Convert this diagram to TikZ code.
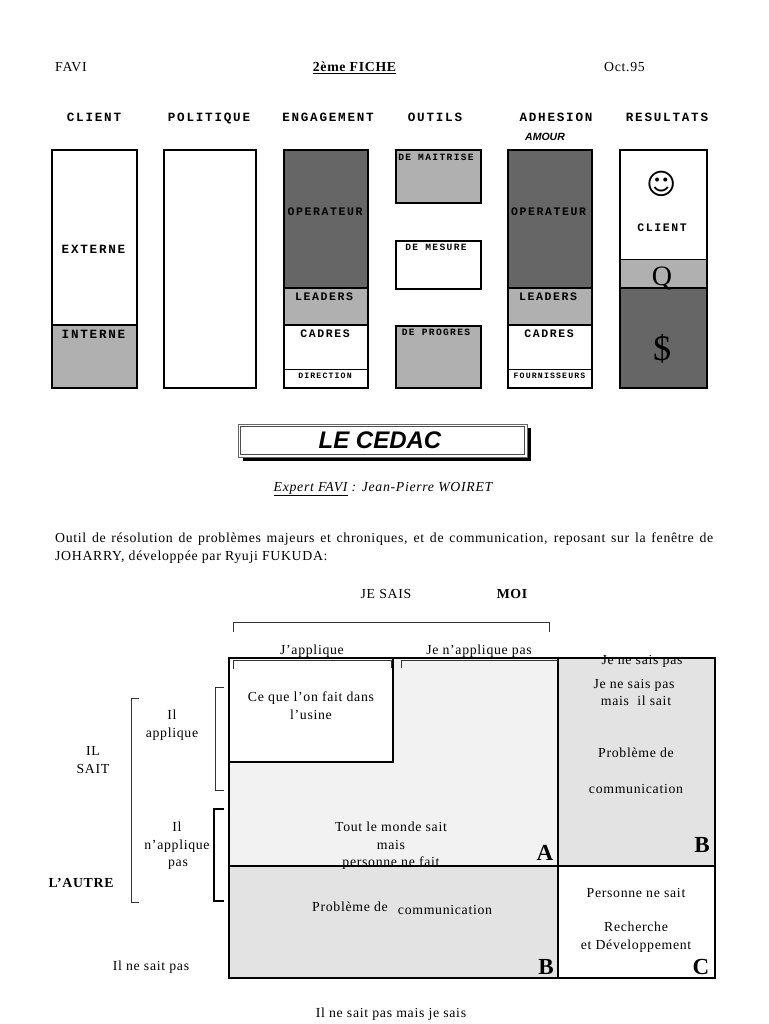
\documentclass[tikz,border=0pt]{standalone}
\usepackage{fontspec}
\setmainfont[LetterSpace=5]{Liberation Serif}
\setsansfont{Liberation Sans}
\newfontfamily\monofnt[LetterSpace=14]{Liberation Mono}
\newfontfamily\symfnt{DejaVu Sans}
\definecolor{darkfill}{gray}{0.40}
\definecolor{midfill}{gray}{0.69}
\definecolor{lightfill}{gray}{0.95}
\definecolor{palefill}{gray}{0.89}
\tikzset{
  txt/.style={anchor=base,inner sep=0pt,font=\fontsize{13.8}{15}\selectfont},
  letter/.style={anchor=base,inner sep=0pt,font=\fontsize{23}{25}\selectfont\bfseries},
  monohead/.style={anchor=base,inner sep=0pt,font=\monofnt\bfseries\fontsize{12.6}{14}\selectfont},
  monomid/.style={anchor=base,inner sep=0pt,font=\monofnt\bfseries\fontsize{11.5}{14}\selectfont},
  monotool/.style={anchor=base,inner sep=0pt,font=\monofnt\bfseries\fontsize{9.6}{12}\selectfont},
  monotiny/.style={anchor=base,inner sep=0pt,font=\monofnt\bfseries\fontsize{8.2}{10}\selectfont},
  boxline/.style={line width=2pt},
  thinbracket/.style={line width=0.9pt,black!80},
}
\begin{document}
\begin{tikzpicture}[x=1pt,y=-1pt]
\useasboundingbox (0,0) rectangle (768,1024);
\fill[white] (0,0) rectangle (768,1024);

% top line
\node[txt,anchor=base west] (favi) at (55,72) {FAVI};
\node[txt] (fiche) at (354.5,72) {\bfseries\underline{2ème FICHE}};
\node[txt,anchor=base west] (date) at (604,72) {Oct.95};

% headings
\node[monohead] (hclient) at (94,122) {CLIENT};
\node[monohead] (hpolitique) at (209,122) {POLITIQUE};
\node[monohead] (hengagement) at (328,122) {ENGAGEMENT};
\node[monohead] (houtils) at (435,122) {OUTILS};
\node[monohead] (hadhesion) at (556,122) {ADHESION};
\node[monohead] (hresultats) at (667,122) {RESULTATS};
\node[anchor=base,inner sep=0pt,font=\sffamily\bfseries\itshape\fontsize{10.5}{12}\selectfont] (amour) at (545,141) {AMOUR};

% fills of the columns
\fill[midfill] (51,325) rectangle (137,388);
\fill[darkfill] (283,150) rectangle (368,288);
\fill[midfill] (283,288) rectangle (368,325);
\fill[midfill] (395,150) rectangle (481,203);
\fill[midfill] (395,325) rectangle (481,388);
\fill[darkfill] (507,150) rectangle (592,288);
\fill[midfill] (507,288) rectangle (592,325);
\fill[midfill] (619,259) rectangle (707,288);
\fill[darkfill] (619,288) rectangle (707,388);

% column texts
\node[monohead] (externe) at (93.5,253) {EXTERNE};
\node[monohead] (interne) at (93.5,338) {INTERNE};
\node[monomid] (op1) at (325,215) {OPERATEUR};
\node[monomid] (lead1) at (324,300) {LEADERS};
\node[monomid] (cad1) at (325,337) {CADRES};
\node[monotiny] (dir) at (325,378) {DIRECTION};
\node[monotool] (maitrise) at (436,161) {DE MAITRISE};
\node[monotool] (mesure) at (436,250) {DE MESURE};
\node[monotool] (progres) at (436,335) {DE PROGRES};
\node[monomid] (op2) at (548.5,215) {OPERATEUR};
\node[monomid] (lead2) at (548,300) {LEADERS};
\node[monomid] (cad2) at (549,337) {CADRES};
\node[monotiny] (four) at (549.5,378) {FOURNISSEURS};
\node[anchor=base,inner sep=0pt,font=\symfnt\fontsize{29}{32}\selectfont] (smile) at (662,195) {☺};
\node[monomid] (cl) at (662,232) {CLIENT};
\node[anchor=base,inner sep=0pt,font=\fontsize{28}{30}\selectfont] (q) at (662,285.5) {Q};
\node[anchor=base,inner sep=0pt,font=\fontsize{36}{38}\selectfont] (dollar) at (662,360) {\$};

% column frames
\draw[boxline] (51.5,150.5) rectangle (136.5,387.5);
\draw[boxline] (51,325) -- (137,325);
\draw[boxline] (163.5,150.5) rectangle (255.5,387.5);
\draw[boxline] (283.5,150.5) rectangle (367.5,387.5);
\draw[line width=1.3pt] (283,288) -- (368,288) (283,325) -- (368,325);
\draw[line width=0.7pt] (283,369) -- (368,369);
\draw[boxline] (395.5,150.5) rectangle (480.5,203);
\draw[boxline] (395.5,240.5) rectangle (480.5,288.5);
\draw[boxline] (395.5,325.5) rectangle (480.5,387.5);
\draw[boxline] (507.5,150.5) rectangle (591.5,387.5);
\draw[line width=1.3pt] (507,288) -- (592,288) (507,325) -- (592,325);
\draw[line width=0.7pt] (507,369) -- (592,369);
\draw[boxline] (619.5,150.5) rectangle (706.5,387.5);
\draw[line width=0.8pt] (619,259) -- (707,259);
\draw[line width=1.3pt] (619,288) -- (707,288);

% title box
\fill[black] (243,428) rectangle (530.5,461);
\draw[line width=1pt,draw=black!60,fill=white] (238,424) rectangle (527,457);
\draw[line width=0.8pt,draw=black!70] (240.5,426.5) rectangle (524.5,454.5);
\node[anchor=base,inner sep=0pt,font=\sffamily\bfseries\itshape\fontsize{24}{26}\selectfont] (cedac) at (380,448) {LE CEDAC};
\node[txt] (expert) at (383,491) {\itshape\underline{Expert FAVI} : Jean-Pierre WOIRET};

% paragraph
\node[txt,anchor=base west] (para1) at (55,542) {\makebox[658pt][s]{Outil de résolution de problèmes majeurs et chroniques, et de communication, reposant sur la fenêtre de}};
\node[txt,anchor=base west] (para2) at (55,560) {JOHARRY, développée par Ryuji FUKUDA:};

% window fills
\fill[lightfill] (228,657) rectangle (558,866);
\fill[white] (228,657) rectangle (393,762);
\fill[palefill] (558,657) rectangle (715,866);
\fill[palefill] (228,866) rectangle (558,978);

% window texts
\node[txt] (jesais) at (386,598) {JE SAIS};
\node[txt] (moi) at (512,598) {\bfseries MOI};
\node[txt] (japp) at (312,654) {J'applique};
\node[txt] (jenapp) at (479,654) {Je n'applique pas};
\node[txt] (jns) at (642,664) {Je ne sais pas};
\node[txt] (usine1) at (311,701) {Ce que l'on fait dans};
\node[txt] (usine2) at (311,719) {l'usine};
\node[txt] (ilapp1) at (172,719) {Il};
\node[txt] (ilapp2) at (172,737) {applique};
\node[txt] (ilsait1) at (93,755) {IL};
\node[txt] (ilsait2) at (93,773) {SAIT};
\node[txt] (ilnapp1) at (177,831) {Il};
\node[txt] (ilnapp2) at (177,849) {n'applique};
\node[txt] (ilnapp3) at (178,866) {pas};
\node[txt] (autre) at (81,887) {\bfseries L'AUTRE};
\node[txt] (ilnesait) at (151,970) {Il ne sait pas};
\node[txt] (basbas) at (391,1017) {Il ne sait pas mais je sais};
\node[txt] (tout1) at (391,831) {Tout le monde sait};
\node[txt] (tout2) at (391,849) {mais};
\node[txt] (tout3) at (391,866) {personne ne fait};
\node[txt] (pb1) at (350,911) {Problème de};
\node[txt] (pb2) at (445,914) {communication};
\node[txt] (jns1) at (634,688) {Je ne sais pas};
\node[txt] (jns2) at (636,705) {mais\ \ il sait};
\node[txt] (pc1) at (636,757) {Problème de};
\node[txt] (pc2) at (636,793) {communication};
\node[txt] (pers) at (636,897) {Personne ne sait};
\node[txt] (rd1) at (636,931) {Recherche};
\node[txt] (rd2) at (636,949) {et Développement};
\node[letter] (lettera) at (545,860) {A};
\node[letter] (letterb) at (702,852) {B};
\node[letter] (letterbb) at (546,974) {B};
\node[letter] (letterc) at (701,974) {C};

% window lines
\draw[boxline] (228.5,657.5) rectangle (714.5,978);
\draw[boxline] (558,657) -- (558,978);
\draw[boxline] (228,866) -- (715,866);
\draw[boxline] (393,657) -- (393,762) -- (228,762);

% brackets
\draw[thinbracket] (233,632) -- (233,622.5) -- (549,622.5) -- (549,632);
\draw[thinbracket] (233,669) -- (233,660.5) -- (391,660.5) -- (391,668);
\draw[thinbracket] (401,668) -- (401,660.5) -- (558,660.5);
\draw[thinbracket] (139,698) -- (131,698) -- (131,902) -- (139,902);
\draw[thinbracket] (224,687) -- (215,687) -- (215,790) -- (224,790);
\draw[line width=1.2pt] (224,809) -- (214,809) -- (214,901) -- (224,901);
\end{tikzpicture}
\end{document}
